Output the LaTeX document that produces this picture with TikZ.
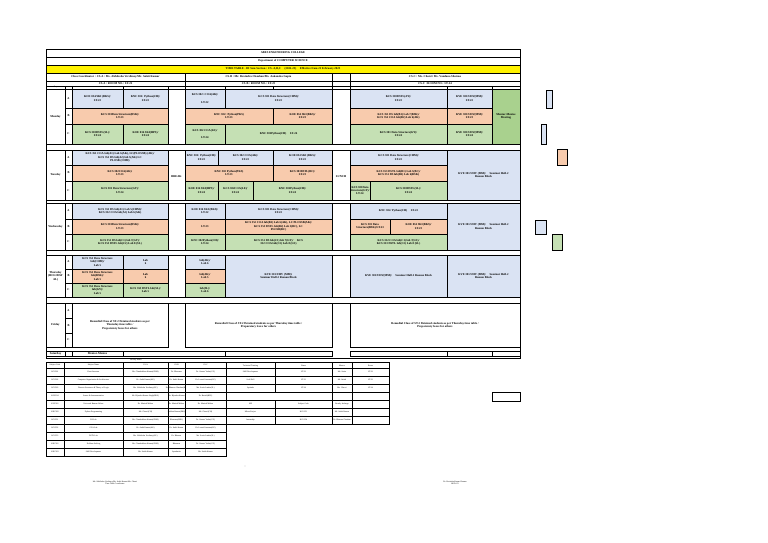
\documentclass[tikz,border=0pt]{standalone}
\usepackage{fontspec}
\setmainfont{Liberation Serif}
\definecolor{cb}{HTML}{DAE3F3}
\definecolor{co}{HTML}{F8CBAD}
\definecolor{cg}{HTML}{C5E0B4}
\definecolor{cdg}{HTML}{A9D18E}
\tikzset{cell/.style={draw=black,line width=0.6pt},
 txt/.style={font=\fontsize{2.9}{3.3}\selectfont\bfseries,align=center,inner sep=0pt},
 sm/.style={font=\fontsize{2}{2.4}\selectfont,align=center,inner sep=0pt}}
\newcommand\cb[6]{\draw[cell,fill=#5] (#1,#2) rectangle (#3,#4); \node[txt] at ({(#1+#3)/2},{(#2+#4)/2}) {#6};}
\newcommand\eb[5]{\draw[cell,fill=#5] (#1,#2) rectangle (#3,#4);}
\newcommand\tb[6]{\draw[line width=0.4pt,fill=#5] (#1,#2) rectangle (#3,#4); \node[sm] at ({(#1+#3)/2},{(#2+#4)/2}) {#6};}
\begin{document}
\begin{tikzpicture}[x=1pt,y=-1pt]
\useasboundingbox[fill=white] (0,0) rectangle (768,543);
% title block
\cb{46}{49}{520}{57}{white}{ABES ENGINEERING COLLEGE}
\cb{46}{57}{520}{65}{white}{Department of COMPUTER SCIENCE}
\cb{46}{65}{520}{73}{yellow}{TIME TABLE - III Sem Section : CS- A,B,C \quad (2022-23) \quad Effective from 21 February 2023}
\cb{46}{73}{185}{81}{white}{Class Coordinator : CS-A : Ms. Akhilesha Verdimey/Mr. Ankit Kumar}
\cb{185}{73}{332}{81}{white}{CS-B : Mr. Ravindra Chauhan/Ms. Aakansha Gupta}
\eb{332}{73}{350}{81}{white}
\cb{350}{73}{520}{81}{white}{CS-C : Ms. Charvi/ Ms. Vandana Sharma}
\cb{46}{81}{185}{86}{white}{CS-A : ROOM NO.: LT-22}
\cb{185}{81}{332}{86}{white}{CS-B : ROOM NO.: LT-23}
\cb{350}{81}{520}{86}{white}{CS-C : ROOM NO.: LT-24}
\foreach \a/\b in {46/65,65/72,72/123,123/168,168/185,185/225,225/273,273/332,332/350,350/447,447/492,492/520}{\draw[cell] (\a,86) rectangle (\b,89);}
\node[sm] at (55.5,87.5) {Day};
% day and section columns
\foreach \y/\h/\d in {89/144/Monday,150/200/Tuesday,203/250/Wednesday,255/297/{Thursday\\(HOLIDAY\\AL)},303/347/Friday}{
 \draw[cell] (46,\y) rectangle (65,\h); \node[txt] at (55.5,{(\y+\h)/2}) {\d};}
\foreach \a/\b/\c/\d in {89/108/124/144,150/165/181/200,203/219/234/250,255/269/283/297,303/318/333/347}{
 \draw[cell] (65,\a) rectangle (72,\b); \node[txt] at (68.5,{(\a+\b)/2}) {A};
 \draw[cell] (65,\b) rectangle (72,\c); \node[txt] at (68.5,{(\b+\c)/2}) {B};
 \draw[cell] (65,\c) rectangle (72,\d); \node[txt] at (68.5,{(\c+\d)/2}) {C};}
\draw[cell] (46,144) rectangle (520,150);
\draw[cell] (46,200) rectangle (520,203);
\draw[cell] (46,250) rectangle (520,255);
\draw[cell] (46,297) rectangle (520,303);
\draw[cell] (46,49) rectangle (520,358);
\node[txt] (brk) at (176.5,177) {BREAK};
\node[txt] (lun) at (341,177) {LUNCH};
% Monday
\cb{72}{89}{123}{108}{cb}{KOE 034/SKI (BKS)/\\LT-22}
\cb{123}{89}{168}{108}{cb}{KNC 302: Python(CH)/\\LT-22}
\cb{185}{89}{225}{108}{cb}{KCS 302: COA(AK)/\\[4pt]LT-22}
\cb{225}{89}{332}{108}{cb}{KCS 301 Data Structure(CHM)/\\LT-22}
\cb{350}{89}{447}{108}{cb}{KCS 303DSTL(AY)/\\LT-22}
\cb{447}{89}{492}{108}{cb}{KVE 301/UHV(MM)/\\LT-22}
\cb{492}{89}{520}{144}{cdg}{Mentor-Mentee\\Meeting}
\cb{72}{108}{168}{124}{co}{KCS 301Data Structure(BSK)/\\LT-23}
\cb{185}{108}{273}{124}{co}{KNC 302: Python(PKS)\\LT-23}
\cb{273}{108}{332}{124}{co}{KOE 034 SKI(BKS)/\\LT-23}
\cb{350}{108}{447}{124}{co}{KCS 351 DS lab(B1) Lab 7(BSK)/\\KCS 352 COA lab(B2) Lab 6(AK)}
\cb{447}{108}{492}{124}{co}{KVE 301/UHV(MM)/\\LT-23}
\cb{72}{124}{123}{144}{cg}{KCS 303DSTL(SL)/\\LT-24}
\cb{123}{124}{168}{144}{cg}{KOE 034 SKI(HPS)/\\LT-24}
\cb{185}{124}{225}{144}{cg}{KCS 302 COA(LE)/\\[4pt]LT-24}
\cb{225}{124}{332}{144}{cg}{KNC 302Python(CH) \quad LT-24}
\cb{350}{124}{447}{144}{cg}{KCS 301 Data Structure(GY)/\\LT-24}
\cb{447}{124}{492}{144}{cg}{KVE 301/UHV(MM)/\\LT-24}
% Tuesday
\cb{72}{150}{168}{165}{cb}{KCS 351 COA lab(A1) Lab 6(AK), LC(PLOSSB) (AK)/\\KCS 351 DS lab(A2) lab 5(AK) LC\\PLOSB (CHM)}
\cb{185}{150}{218}{165}{cb}{KNC 302: Python(CH)/\\LT-22}
\cb{218}{150}{273}{165}{cb}{KCS 302 COA(AK)/\\LT-22}
\cb{273}{150}{332}{165}{cb}{KOE 034 SKI (BKS)/\\LT-22}
\cb{350}{150}{447}{165}{cb}{KCS 301 Data Structure(CHM)/\\LT-22}
\cb{447}{150}{520}{200}{cb}{KVE 301/UHV (MM)/ \quad Seminar Hall-2\\Raman Block}
\cb{72}{165}{168}{181}{co}{KCS 302COA(AK)/\\LT-23}
\cb{185}{165}{273}{181}{co}{KNC 302 Python(PKS)\\LT-23}
\cb{273}{165}{332}{181}{co}{KCS 303DSTL(BC)/\\LT-23}
\cb{350}{165}{447}{181}{co}{KCS 353 DSTL lab(B1) Lab 5(BC)/\\KCS 351 DS lab(B2) Lab 6(BSK)}
\cb{72}{181}{168}{200}{cg}{KCS 301 Data Structure(GY)/\\LT-24}
\cb{185}{181}{218}{200}{cg}{KOE 034 SKI(HPS)/\\LT-24}
\cb{218}{181}{253}{200}{cg}{KCS 302COA(LE)/\\LT-24}
\cb{253}{181}{332}{200}{cg}{KNC 302Python(CH)/\\LT-24}
\cb{350}{181}{370}{200}{cg}{KCS 301Data\\Structure(GY)/\\LT-24}
\cb{370}{181}{447}{200}{cg}{KCS 303DSTL(SL)/\\LT-24}
% Wednesday
\cb{72}{203}{168}{219}{cb}{KCS 351 DS lab(A1) Lab 5(CHM)/\\KCS 352 COA lab(A2) Lab 6(AK)}
\cb{185}{203}{225}{219}{cb}{KOE 034 SKI (BKS)/\\LT-22}
\cb{225}{203}{332}{219}{cb}{KCS 301 Data Structure(CHM)/\\LT-22}
\cb{350}{203}{447}{219}{cb}{KNC 302/ Python(CH) \quad LT-22}
\cb{447}{203}{520}{250}{cb}{KVE 301/UHV (MM)/ \quad Seminar Hall-2\\Raman Block}
\cb{72}{219}{168}{234}{co}{KCS 301Data Structure(BSK)/\\LT-23}
\cb{185}{219}{225}{234}{co}{LT-23}
\cb{225}{219}{332}{234}{co}{KCS 352 COA lab(B1) Lab 6(AK), LC PLOSSB(AK)/\\KCS 353 DSTL lab(B2) Lab 5(BC), LC\\PLOSB(BC)}
\cb{350}{219}{390}{234}{co}{KCS 301 Data\\Structure(BSK)/LT-23}
\cb{390}{219}{447}{234}{co}{KOE 034 SKI(BKS)/\\LT-23}
\cb{72}{234}{168}{250}{cg}{KCS 351 DS lab(C1) lab 7(GY)/\\KCS 353 DSTL lab(C2) Lab 8 (SL)}
\cb{185}{234}{225}{250}{cg}{KNC 302Python(CH)/\\LT-24}
\cb{225}{234}{332}{250}{cg}{KCS 351 DS lab(C1) lab 7(GY)/ \quad KCS\\352 COA lab(C2) Lab 8 (LE)}
\cb{350}{234}{447}{250}{cg}{KCS 352 COA lab(C1) lab 7(LE)/\\KCS 353 DSTL lab(C2) Lab 8 (SL)}
% Thursday
\cb{72}{255}{123}{269}{cb}{KCS 351 Data Structure\\lab(CHM)/\\Lab 5}
\cb{123}{255}{168}{269}{cb}{Lab\\6}
\cb{185}{255}{225}{269}{cb}{lab(AK)/\\Lab 6}
\cb{72}{269}{123}{283}{co}{KCS 351 Data Structure\\lab(BSK)/\\Lab 5}
\cb{123}{269}{168}{283}{co}{Lab\\6}
\cb{185}{269}{225}{283}{co}{lab(AK)/\\Lab 5}
\cb{72}{283}{123}{297}{cg}{KCS 351 Data Structure\\lab(GY)/\\Lab 5}
\cb{123}{283}{168}{297}{cg}{KCS 353 DSTL lab(SL)/\\Lab 5}
\cb{185}{283}{225}{297}{cg}{lab(SL)/\\Lab 6}
\cb{225}{255}{332}{297}{cb}{KVE 301/UHV (MM)/\\Seminar Hall-2 Raman Block}
\cb{350}{255}{447}{297}{cb}{KVE 301/UHV(MM)/ \quad Seminar Hall-2 Raman Block}
\cb{447}{255}{520}{297}{cb}{KVE 301/UHV (MM)/ \quad Seminar Hall-2\\Raman Block}
% Friday
\cb{72}{303}{168}{347}{white}{Remedial Class of ST-2 Detained students as per\\Thursday time table /\\Preparatory leave for others}
\cb{185}{303}{332}{347}{white}{Remedial Class of ST-2 Detained students as per Thursday time table /\\Preparatory leave for others}
\cb{350}{303}{520}{347}{white}{Remedial Class of ST-2 Detained students as per Thursday time table /\\Preparatory leave for others}
% Saturday
\cb{46}{351}{65}{356}{white}{Saturday}
\eb{65}{351}{72}{356}{white}
\cb{72}{351}{123}{356}{white}{Mentor-Mentee}
\eb{123}{351}{225}{356}{white}
\eb{225}{351}{332}{356}{white}
\eb{350}{351}{447}{356}{white}
\eb{447}{351}{492}{356}{white}
\eb{492}{351}{520}{356}{white}
% stray boxes
\draw[cell,fill=cb] (546,90) rectangle (552,108);
\draw[cell,fill=cb] (541,124) rectangle (546,144);
\draw[cell,fill=co] (557,149) rectangle (567,165);
\draw[cell,fill=cb] (535,220) rectangle (546,234);
\draw[cell,fill=cg] (552,234) rectangle (562,250);
\draw[cell] (492,392) rectangle (520,401);
% subject table
\foreach \y/\c/\n/\a/\b/\cc [count=\i] in {
 362/Subject Code/Subject Name/CS-A/CS-B/CS-C,
 368/KCS301/Data Structure/Mr. Chandrabhan Kumar(CHM)/Dr. Bhawana/Dr. Gaurav Yadav(GY),
 376/KCS302/Computer Organization \& Architecture/Dr. Ankit Kumar(AK)/Dr. Ankit Kumar/Dr. Laxmi Saraswat(LE),
 384/KCS303/Discrete Structures \& Theory of Logic/Ms. Akhilesha Verdimey(AY)/Dr. Bhawna Chauhan(BC)/Ms. Sonia Lamba(SL),
 392/KOE034/Sensor \& Instrumentation/Mr. Bijendra Kumar Singh(BKS)/Mr. Bijendra Kumar/Dr. Harish(HPS),
 400/KVE301/Universal Human Values/Dr. Manish Mishra/Dr. Manish Mishra/Dr. Manish Mishra,
 408/KNC302/Python Programming/Ms. Charvi(CH)/Prabhat Kumar(PKS)/Ms. Charvi(CH),
 416/KCS351/DS Lab/Mr. Chandrabhan Kumar(CHM)/Bhawana(BSK)/Dr. Gaurav Yadav(GY),
 424/KCS352/COA Lab/Dr. Ankit Kumar(AK)/Dr. Ankit Kumar/Dr. Laxmi Saraswat(LE),
 432/KCS353/DSTL Lab/Ms. Akhilesha Verdimey(AY)/Dr. Bhawna/Ms. Sonia Lamba(SL),
 440/KNC301/Problem Solving/Mr. Chandrabhan Kumar(CHM)/Bhawana/Dr. Gaurav Yadav(GY),
 448/KNC303/Skill Development/Mr. Satish Kumar/Ayushmita/Mr. Satish Kumar}{
 \pgfmathsetmacro\yy{\y+(\i==1?6:8)}
 \tb{46}{\y}{64}{\yy}{white}{\c}
 \tb{64}{\y}{123}{\yy}{white}{\n}
 \tb{123}{\y}{168}{\yy}{white}{\a}
 \tb{168}{\y}{185}{\yy}{white}{\b}
 \tb{185}{\y}{226}{\yy}{white}{\cc}}
\node[sm] at (136,360) {Faculty Name};
\foreach \y/\a/\b/\c/\d in {
 362/Technical Training/Name/Mentor/Room,
 368/Skill Development/LT-22/Ms. Sonia/LT-22,
 376/Soft Skill/LT-23/Mr. Satish/LT-23,
 384/Aptitude/LT-24/Ms. Charvi/LT-24}{
 \tb{226}{\y}{275}{\y+8}{white}{\a}
 \tb{275}{\y}{332}{\y+8}{white}{\b}
 \tb{332}{\y}{352}{\y+8}{white}{\c}
 \tb{352}{\y}{389}{\y+8}{white}{\d}}
\draw[line width=0.4pt] (332,392) rectangle (352,400) (352,392) rectangle (389,400);
\foreach \y/\a/\b/\c in {
 400/MP/Subject Code/Faculty Incharge,
 408/Minor Project/KCS 351/Mr. Ankit Kumar,
 416/Internship/KCS 354/Dr. Bhawna Chauhan}{
 \tb{226}{\y}{275}{\y+8}{white}{\a}
 \tb{275}{\y}{332}{\y+8}{white}{\b}
 \tb{332}{\y}{352}{\y+8}{white}{\c}
 \draw[line width=0.4pt] (352,\y) rectangle (389,\y+8);}
\draw[line width=0.8pt] (46,362) rectangle (226,456);
\draw[line width=0.8pt] (226,362) rectangle (389,424);
% signatures
\node[sm] (sig1) at (115,483) {Ms. Akhilesha Verdimey/Mr. Ankit Kumar/Ms. Charvi\\Time Table Coordinator};
\node[sm] (sig2) at (455,483) {Dr. Ravindra Kumar Sharma\\HOD-CS};
\fill[gray] (245,466) circle (0.4);
\end{tikzpicture}
\end{document}
